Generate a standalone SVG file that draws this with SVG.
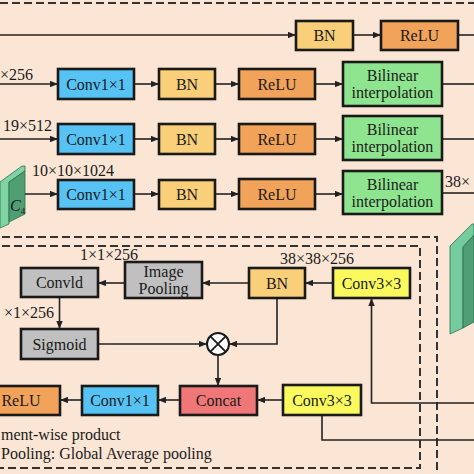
<svg xmlns="http://www.w3.org/2000/svg" width="474" height="474" viewBox="0 0 474 474">
<defs>
<style>
.b{stroke:#1a1a1a;stroke-width:2.6}
.conv{fill:#57c3f5}.bn{fill:#f9cf7a}.relu{fill:#f2a35a}.bil{fill:#8fe58f}.gray{fill:#c0c0c0}.c3{fill:#fafa5e}.cat{fill:#ef7777}
text{font-family:"Liberation Serif","Times New Roman",serif;font-size:16px;fill:#1a1a1a}
.m{text-anchor:middle}
.ln{fill:none;stroke:#222;stroke-width:1.6}
.dash{fill:none;stroke:#333;stroke-width:2;stroke-dasharray:8 4}
</style>
<marker id="ah" viewBox="0 0 10 8" refX="10" refY="4" markerWidth="8" markerHeight="6.4" orient="auto" markerUnits="userSpaceOnUse">
<path d="M0,0 L10,4 L0,8 z" fill="#222"/>
</marker>
</defs>
<rect x="0" y="0" width="474" height="474" fill="#fbe5d5"/>
<line x1="0" y1="3" x2="474" y2="3" class="dash"/>
<!-- lower region -->
<rect x="-10" y="237" width="447" height="245" fill="#ffffff" class="dash"/>
<rect x="-10" y="246" width="430" height="222" fill="#e2efda" class="dash"/>

<!-- slabs -->
<g id="C4">
<polygon points="0,182 22,166 25,166 25,171 9,182 9,224 0,228" fill="#7fd3a5" stroke="#2f6e4d" stroke-width="0.8"/>
<polygon points="9,182 25,171 25,214 9,222" fill="#4f9e74" stroke="#2f6e4d" stroke-width="0.8"/>
<text x="10" y="211" font-style="italic" font-size="13">C<tspan font-size="9" dy="3" font-style="normal">4</tspan></text>
</g>
<g id="slabR">
<polygon points="450,246 472,224 474,224 474,235 463,247 463,328 450,334" fill="#74cc9e" stroke="#2f6e4d" stroke-width="0.8"/>
<polygon points="463,247 474,235 474,322 463,328" fill="#4f9e74" stroke="#2f6e4d" stroke-width="0.8"/>
</g>

<g id="connectors">
<line x1="0" y1="35" x2="296" y2="35" class="ln" marker-end="url(#ah)"/>
<line x1="353" y1="35" x2="381" y2="35" class="ln" marker-end="url(#ah)"/>
<line x1="458" y1="35" x2="474" y2="35" class="ln"/>
<line x1="0" y1="84" x2="58" y2="84" class="ln" marker-end="url(#ah)"/>
<line x1="134" y1="84" x2="159" y2="84" class="ln" marker-end="url(#ah)"/>
<line x1="215" y1="84" x2="239" y2="84" class="ln" marker-end="url(#ah)"/>
<line x1="315" y1="84" x2="343" y2="84" class="ln" marker-end="url(#ah)"/>
<line x1="442" y1="84" x2="474" y2="84" class="ln"/>
<line x1="0" y1="139" x2="58" y2="139" class="ln" marker-end="url(#ah)"/>
<line x1="134" y1="139" x2="159" y2="139" class="ln" marker-end="url(#ah)"/>
<line x1="215" y1="139" x2="239" y2="139" class="ln" marker-end="url(#ah)"/>
<line x1="315" y1="139" x2="343" y2="139" class="ln" marker-end="url(#ah)"/>
<line x1="442" y1="139" x2="474" y2="139" class="ln"/>
<line x1="25" y1="194" x2="58" y2="194" class="ln" marker-end="url(#ah)"/>
<line x1="134" y1="194" x2="159" y2="194" class="ln" marker-end="url(#ah)"/>
<line x1="215" y1="194" x2="239" y2="194" class="ln" marker-end="url(#ah)"/>
<line x1="315" y1="194" x2="343" y2="194" class="ln" marker-end="url(#ah)"/>
<line x1="442" y1="193" x2="474" y2="193" class="ln"/>
<!-- lower -->
<line x1="333" y1="283" x2="305" y2="283" class="ln" marker-end="url(#ah)"/>
<line x1="249" y1="283" x2="202" y2="283" class="ln" marker-end="url(#ah)"/>
<line x1="125" y1="283" x2="98" y2="283" class="ln" marker-end="url(#ah)"/>
<line x1="59.5" y1="297" x2="59.5" y2="329" class="ln" marker-end="url(#ah)"/>
<line x1="98" y1="344" x2="207" y2="344" class="ln" marker-end="url(#ah)"/>
<polyline points="277,298 277,344 229,344" class="ln" marker-end="url(#ah)"/>
<line x1="218" y1="355" x2="218" y2="386" class="ln" marker-end="url(#ah)"/>
<line x1="283" y1="400" x2="257" y2="400" class="ln" marker-end="url(#ah)"/>
<line x1="180" y1="400" x2="158" y2="400" class="ln" marker-end="url(#ah)"/>
<line x1="82" y1="400" x2="60" y2="400" class="ln" marker-end="url(#ah)"/>
<polyline points="474,403 371.5,403 371.5,298" class="ln" marker-end="url(#ah)"/>
<polyline points="474,440 322,440 322,415" class="ln"/>
</g>

<!-- top row -->
<g id="bn0"><rect x="296" y="21" width="57" height="29" class="b bn"/><text x="324.5" y="41" class="m">BN</text></g>
<g id="relu0"><rect x="381" y="21" width="77" height="29" class="b relu"/><text x="419.5" y="41" class="m">ReLU</text></g>

<!-- row 1 -->
<text x="0" y="80">×256</text>
<g id="conv1"><rect x="58" y="69" width="76" height="30" class="b conv"/><text x="96" y="89.5" class="m">Conv1×1</text></g>
<g id="bn1"><rect x="159" y="69" width="56" height="30" class="b bn"/><text x="187" y="89.5" class="m">BN</text></g>
<g id="relu1"><rect x="239" y="69" width="76" height="30" class="b relu"/><text x="277" y="89.5" class="m">ReLU</text></g>
<g id="bil1"><rect x="343" y="62" width="99" height="44" class="b bil"/><text x="392.5" y="81" class="m">Bilinear</text><text x="392.5" y="98" class="m">interpolation</text></g>

<!-- row 2 -->
<text x="3" y="131">19×512</text>
<g id="conv2"><rect x="58" y="124" width="76" height="30" class="b conv"/><text x="96" y="144.5" class="m">Conv1×1</text></g>
<g id="bn2"><rect x="159" y="124" width="56" height="30" class="b bn"/><text x="187" y="144.5" class="m">BN</text></g>
<g id="relu2"><rect x="239" y="124" width="76" height="30" class="b relu"/><text x="277" y="144.5" class="m">ReLU</text></g>
<g id="bil2"><rect x="343" y="116" width="99" height="44" class="b bil"/><text x="392.5" y="135" class="m">Bilinear</text><text x="392.5" y="152" class="m">interpolation</text></g>

<!-- row 3 -->
<text x="32" y="176">10×10×1024</text>
<g id="conv3"><rect x="58" y="180" width="76" height="29" class="b conv"/><text x="96" y="200" class="m">Conv1×1</text></g>
<g id="bn3"><rect x="159" y="180" width="56" height="29" class="b bn"/><text x="187" y="200" class="m">BN</text></g>
<g id="relu3"><rect x="239" y="179" width="76" height="30" class="b relu"/><text x="277" y="199.5" class="m">ReLU</text></g>
<g id="bil3"><rect x="343" y="171" width="99" height="43" class="b bil"/><text x="392.5" y="190" class="m">Bilinear</text><text x="392.5" y="207" class="m">interpolation</text></g>
<text x="445" y="187">38×</text>

<!-- lower nodes -->
<text x="80" y="260">1×1×256</text>
<text x="4" y="318">×1×256</text>
<text x="280" y="264">38×38×256</text>
<g id="imgpool"><rect x="125" y="262" width="77" height="36" class="b gray"/><text x="163.5" y="277" class="m">Image</text><text x="163.5" y="294" class="m">Pooling</text></g>
<g id="convld"><rect x="21" y="268" width="77" height="29" class="b gray"/><text x="59.5" y="288" class="m">Convld</text></g>
<g id="sigmoid"><rect x="21" y="329" width="77" height="30" class="b gray"/><text x="59.5" y="349.5" class="m">Sigmoid</text></g>
<g id="bnL"><rect x="249" y="268" width="56" height="30" class="b bn"/><text x="277" y="288.5" class="m">BN</text></g>
<g id="conv3a"><rect x="333" y="268" width="77" height="30" class="b c3"/><text x="371.5" y="288.5" class="m">Conv3×3</text></g>
<g id="mul"><circle cx="218" cy="344" r="11" fill="#fff" stroke="#1a1a1a" stroke-width="2"/><path d="M210.2,336.2 L225.8,351.8 M225.8,336.2 L210.2,351.8" stroke="#1a1a1a" stroke-width="1.8"/></g>
<g id="concat"><rect x="180" y="386" width="77" height="29" class="b cat"/><text x="218.5" y="406" class="m">Concat</text></g>
<g id="conv3b"><rect x="283" y="385" width="78" height="30" class="b c3"/><text x="322" y="405.5" class="m">Conv3×3</text></g>
<g id="convL"><rect x="82" y="386" width="76" height="29" class="b conv"/><text x="120" y="406" class="m">Conv1×1</text></g>
<g id="reluL"><rect x="-20" y="386" width="80" height="29" class="b relu"/><text x="21" y="406" class="m">ReLU</text></g>

<text x="1" y="440" font-size="15">ment-wise product</text>
<text x="1" y="459" font-size="15">Pooling: Global Average pooling</text>
</svg>
